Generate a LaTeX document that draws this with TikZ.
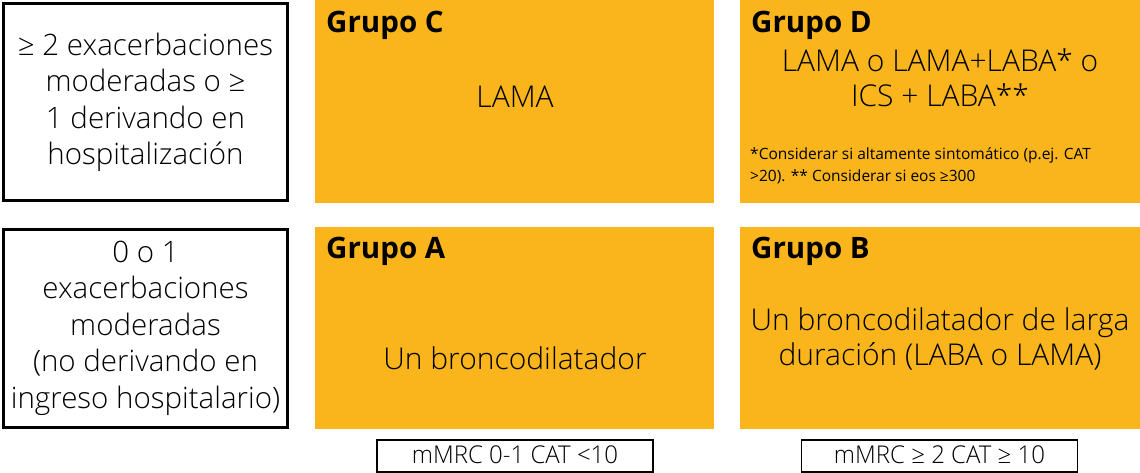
\documentclass[tikz,border=0pt]{standalone}
\usepackage{fontspec}
\setmainfont{Open Sans}
\newfontfamily\lightfont{Open Sans Light}
\newfontfamily\condfont{Open Sans Light}[FakeStretch=0.98]
\usetikzlibrary{positioning}
\definecolor{grupoorange}{RGB}{249,181,27}

\begin{document}
\begin{tikzpicture}[x=1pt,y=-1pt,line join=miter,
    critbox/.style={draw=black,line width=3pt,fill=white,inner sep=0pt,align=center,font=\lightfont\fontsize{29.5}{36.5}\selectfont},
    grupobox/.style={fill=grupoorange,inner sep=0pt},
    heading/.style={anchor=base west,inner sep=0pt,font=\bfseries\fontsize{29.5}{32}\selectfont},
    tratamiento/.style={inner sep=0pt,align=center,font=\lightfont\fontsize{30}{35}\selectfont},
    nota/.style={anchor=north west,inner sep=0pt,align=left,font=\fontsize{15.5}{22}\selectfont},
    escala/.style={draw=black,line width=1.2pt,fill=white,inner sep=0pt,minimum width=276pt,minimum height=32pt,text height=17pt,text depth=3pt,font=\condfont\fontsize{24.5}{26}\selectfont}]
    \useasboundingbox (0,0) rectangle (1140,473);
    % criterios de exacerbaciones
    \node[critbox,minimum width=284pt,minimum height=197pt] (exacalto) at (145.5,102.5) {≥ 2 exacerbaciones\\moderadas o ≥\\1 derivando en\\hospitalización};
    \node[critbox,minimum width=284pt,minimum height=198pt] (exacbajo) at (145.5,328) {0 o 1\\exacerbaciones\\moderadas\\(no derivando en\\ingreso hospitalario)};
    % grupos
    \node[grupobox,minimum width=399pt,minimum height=203pt] (grupoC) at (514.5,101.5) {};
    \node[grupobox,minimum width=400pt,minimum height=203pt] (grupoD) at (940,101.5) {};
    \node[grupobox,minimum width=399pt,minimum height=202pt] (grupoA) at (514.5,328) {};
    \node[grupobox,minimum width=400pt,minimum height=202pt] (grupoB) at (940,328) {};
    \node[heading] (titC) at (326,33) {Grupo C};
    \node[heading] (titD) at (751,33) {Grupo D};
    \node[heading] (titA) at (326,258) {Grupo A};
    \node[heading] (titB) at (751,258) {Grupo B};
    \node[tratamiento] (tratC) at (515,97) {LAMA};
    \node[tratamiento] (tratD) at (940,78) {LAMA o LAMA+LABA* o\\ICS + LABA**};
    \node[nota] (notaD) at (750,147) {*Considerar si altamente sintomático (p.ej. CAT\\>20). ** Considerar si eos ≥300};
    \node[tratamiento] (tratA) at (515,358) {Un broncodilatador};
    \node[tratamiento] (tratB) at (940,339) {Un broncodilatador de larga\\duración (LABA o LAMA)};
    % escalas de sintomas
    \node[escala] (escalaA) at (515,456) {mMRC 0-1 CAT <10};
    \node[escala] (escalaB) at (939.5,456) {mMRC ≥ 2 CAT ≥ 10};
\end{tikzpicture}
\end{document}
